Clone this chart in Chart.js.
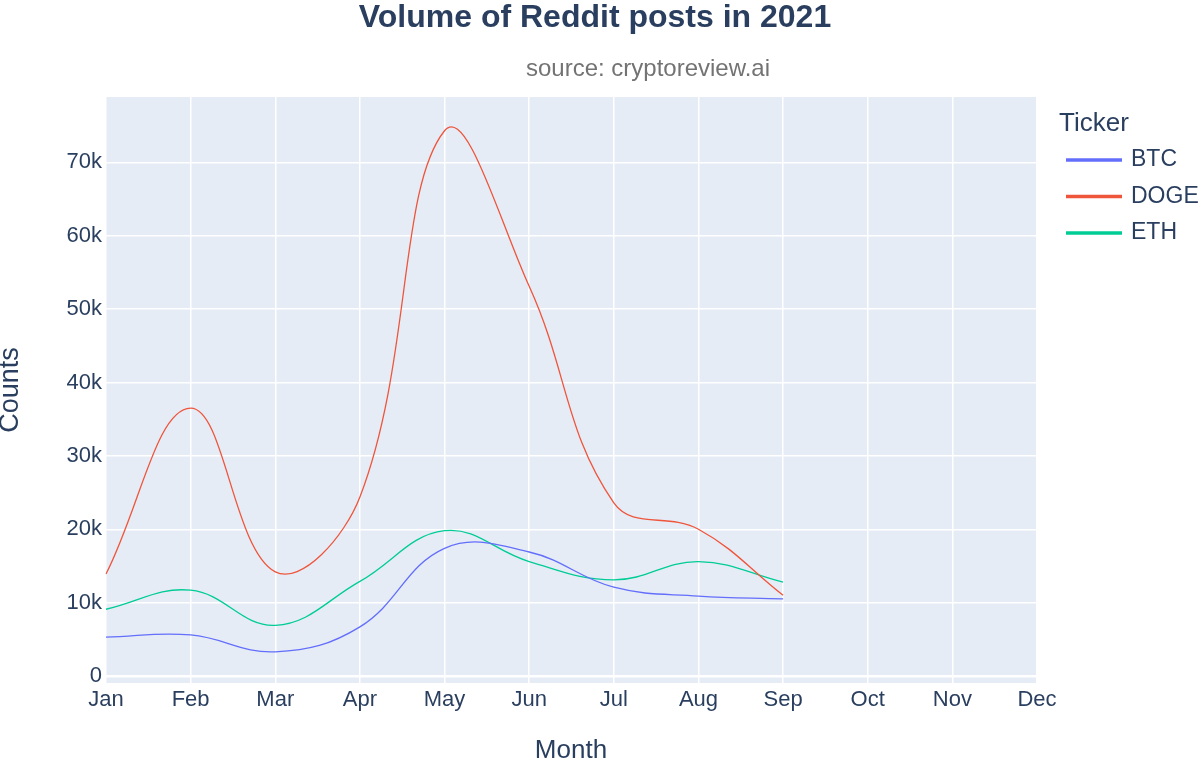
<!DOCTYPE html>
<html>
<head>
<meta charset="utf-8">
<script src="https://cdn.jsdelivr.net/npm/chart.js@4.4.0/dist/chart.umd.min.js"></script>
<style>
  html, body { margin: 0; padding: 0; background: #fff; }
  #wrap { width: 1200px; height: 763px; }
</style>
</head>
<body>
<div id="wrap"><canvas id="chart" width="1200" height="763"></canvas></div>
<script>
// Données (posts Reddit par mois, 2021)
const months = ['Jan', 'Feb', 'Mar', 'Apr', 'May', 'Jun', 'Jul', 'Aug', 'Sep', 'Oct', 'Nov', 'Dec'];
const btc  = [5300, 5600, 3300, 6700, 17400, 16900, 12100, 10900, 10500, null, null, null];
const doge = [13900, 36500, 14200, 24400, 74300, 53100, 23600, 20000, 11000, null, null, null];
const eth  = [9100, 11700, 6900, 12900, 19800, 15600, 13100, 15600, 12800, null, null, null];
const tickers = ['BTC', 'DOGE', 'ETH'];
const colors = ['#636efa', '#EF553B', '#00cc96'];
const yTicks = [0, 10000, 20000, 30000, 40000, 50000, 60000, 70000];

const FONT = '"Liberation Sans", Arial, sans-serif';
const INK = '#2a3f5f';

// Titres, légende et titres d'axes dessinés autour de la zone du graphique
const decor = {
    id: 'decor',
    beforeDraw(chart) {
        const { ctx, chartArea } = chart;
        ctx.save();
        ctx.fillStyle = '#E5ECF6';
        ctx.fillRect(chartArea.left, chartArea.top, chartArea.right - chartArea.left, chartArea.bottom - chartArea.top);
        ctx.restore();
    },
    afterDraw(chart) {
        const { ctx, chartArea } = chart;
        ctx.save();
        ctx.textBaseline = 'middle';
        ctx.textAlign = 'center';
        ctx.fillStyle = INK;
        ctx.font = 'bold 32px ' + FONT;
        ctx.fillText('Volume of Reddit posts in 2021', 595, 18);
        ctx.fillStyle = '#737373';
        ctx.font = '24px ' + FONT;
        ctx.fillText('source: cryptoreview.ai', 648, 69);

        ctx.fillStyle = INK;
        ctx.font = '26px ' + FONT;
        ctx.fillText('Month', 571, 751);
        ctx.save();
        ctx.translate(11, (chartArea.top + chartArea.bottom) / 2);
        ctx.rotate(-Math.PI / 2);
        ctx.font = '27px ' + FONT;
        ctx.fillText('Counts', 0, 0);
        ctx.restore();

        // légende
        ctx.textAlign = 'left';
        ctx.font = '26px ' + FONT;
        ctx.fillText('Ticker', 1059, 124);
        ctx.font = '23px ' + FONT;
        tickers.forEach((t, i) => {
            const y = 160 + i * 36.5;
            ctx.strokeStyle = colors[i];
            ctx.lineWidth = 3.5;
            ctx.beginPath();
            ctx.moveTo(1066, y);
            ctx.lineTo(1122, y);
            ctx.stroke();
            ctx.fillText(t, 1131, y);
        });
        ctx.restore();
    }
};

const series = [btc, doge, eth];

new Chart(document.getElementById('chart').getContext('2d'), {
    type: 'line',
    data: {
        labels: months,
        datasets: tickers.map((t, i) => ({
            label: t,
            data: series[i],
            borderColor: colors[i],
            backgroundColor: colors[i],
            borderWidth: 1.3,
            pointRadius: 0,
            tension: 0.4,
            fill: false,
            spanGaps: false
        }))
    },
    options: {
        responsive: false,
        animation: false,
        layout: { padding: { top: 97, right: 163, left: 0, bottom: 0 } },
        plugins: {
            legend: { display: false },
            title: { display: false },
            tooltip: { enabled: false }
        },
        scales: {
            x: {
                offset: false,
                border: { display: false },
                grid: { color: '#ffffff', lineWidth: 1.5, drawTicks: false },
                ticks: {
                    color: INK,
                    font: { family: FONT, size: 22 },
                    padding: 4,
                    maxRotation: 0,
                    autoSkip: false
                },
                afterFit(scale) { scale.height = 80; }
            },
            y: {
                min: -950,
                max: 78900,
                border: { display: false },
                grid: {
                    color: '#ffffff',
                    lineWidth: ctx => (ctx.tick && ctx.tick.value === 0 ? 2.5 : 1.5),
                    drawTicks: false
                },
                afterBuildTicks(scale) {
                    scale.ticks = yTicks.map(v => ({ value: v }));
                },
                ticks: {
                    color: INK,
                    font: { family: FONT, size: 22 },
                    padding: 4,
                    callback: v => (v === 0 ? '0' : (v / 1000) + 'k')
                },
                afterFit(scale) { scale.width = 106; }
            }
        }
    },
    plugins: [decor]
});
</script>
</body>
</html>
